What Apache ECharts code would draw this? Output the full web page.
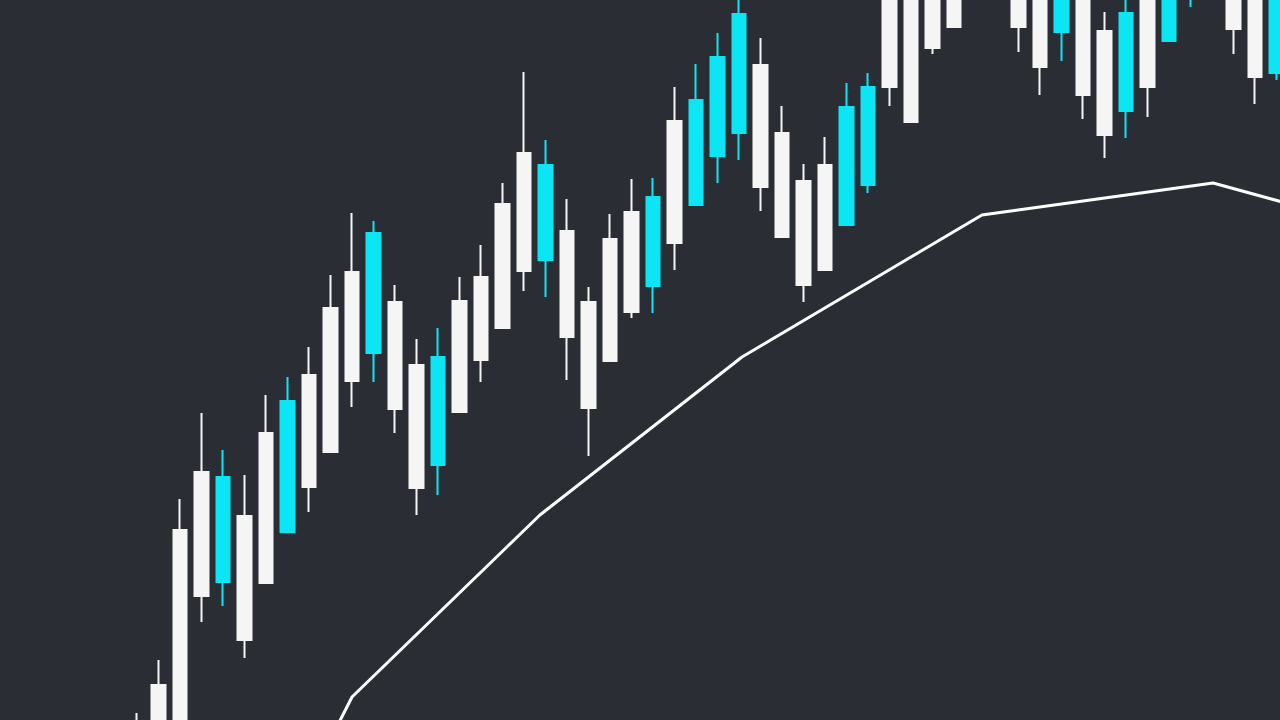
<!DOCTYPE html>
<html>
<head>
<meta charset="utf-8">
<script src="https://cdn.jsdelivr.net/npm/echarts@6/dist/echarts.min.js"></script>
<style>
html,body{margin:0;padding:0;background:#2a2e34;}
#chart{width:1280px;height:720px;}
</style>
</head>
<body>
<div id="chart"></div>
<script>
// Session labels (one per candle)
const categories = ['1','2','3','4','5','6','7','8','9','10','11','12','13','14','15','16','17','18','19','20','21','22','23','24','25','26','27','28','29','30','31','32','33','34','35','36','37','38','39','40','41','42','43','44','45','46','47','48','49','50','51','52','53','54'];

const opens  = [92.0, 94.0, 96.0, 112.4, 124.3, 108.0, 113.7, 131.9, 123.3, 126.8, 133.9, 148.7, 131.1, 123.2, 136.3, 130.8, 136.0, 139.2, 144.9, 155.5, 138.3, 131.2, 135.9, 140.8, 152.3, 147.7, 162.0, 166.3, 170.6, 153.3, 148.3, 143.5, 145.0, 161.3, 163.3, 163.3, 159.8, 167.2, 169.3, 178.0, 173.5, 169.3, 165.3, 175.0, 162.5, 158.5, 170.7, 163.3, 175.0, 176.0, 174.0, 169.1, 164.3, 174.0];
const closes = [99.0, 103.5, 119.0, 124.8, 113.8, 120.4, 128.7, 118.8, 134.5, 141.2, 144.8, 136.7, 141.8, 135.5, 125.5, 141.9, 144.3, 151.6, 156.7, 146.0, 148.9, 141.8, 148.1, 150.8, 143.4, 159.9, 151.5, 156.4, 158.7, 165.5, 158.7, 153.9, 155.5, 149.5, 153.5, 174.0, 173.0, 176.0, 175.0, 174.0, 177.0, 176.0, 174.0, 168.8, 173.0, 168.9, 160.9, 174.0, 167.9, 172.5, 177.0, 175.0, 173.5, 164.7];
const lows   = [90.0, 92.0, 94.0, 109.8, 111.4, 106.2, 113.7, 118.8, 120.8, 126.8, 131.3, 133.8, 128.7, 120.5, 122.5, 130.8, 133.8, 139.2, 142.9, 142.3, 134.0, 126.4, 135.9, 140.2, 140.7, 145.0, 151.5, 153.7, 156.0, 150.9, 148.3, 141.8, 145.0, 149.5, 152.7, 161.4, 159.8, 166.6, 169.3, 173.0, 172.5, 166.8, 162.5, 165.9, 160.1, 156.2, 158.2, 160.3, 167.9, 171.3, 172.8, 166.6, 161.6, 164.0];
const highs  = [100.7, 106.0, 122.1, 130.7, 127.0, 124.5, 132.5, 134.3, 137.3, 144.5, 150.7, 149.9, 143.5, 138.1, 139.2, 144.3, 147.5, 153.7, 164.8, 158.0, 152.1, 143.3, 150.6, 154.1, 154.2, 163.3, 165.6, 168.7, 173.0, 168.2, 161.4, 155.6, 158.3, 163.7, 164.7, 176.0, 175.0, 178.0, 177.0, 180.0, 179.0, 178.0, 176.0, 177.0, 175.0, 170.8, 173.0, 176.0, 177.0, 178.0, 179.0, 177.0, 176.0, 176.0];

// Moving-average line: position (in candle units) and value
const maPositions = [8.51, 10.00, 18.74, 28.14, 39.30, 50.05, 53.77];
const maValues    = [96.0, 102.3, 120.5, 136.3, 150.5, 153.7, 151.5];

const candleData = categories.map((c, i) => [opens[i], closes[i], lows[i], highs[i]]);
const maData = maPositions.map((p, i) => [p, maValues[i]]);

const WHITE = '#f5f5f5';
const CYAN = '#0ce6f4';
const BAND = 21.5;
const N = categories.length;
const LEFT = 137 - BAND / 2;

const chart = echarts.init(document.getElementById('chart'), null, {renderer: 'canvas'});
chart.setOption({
  backgroundColor: '#2a2e34',
  animation: false,
  grid: {left: LEFT, top: 0, width: BAND * N, height: 720, containLabel: false, outerBoundsMode: 'none'},
  xAxis: [
    {type: 'category', data: categories, boundaryGap: true, show: false},
    {type: 'value', min: -0.5, max: N - 0.5, show: false}
  ],
  yAxis: {type: 'value', min: 100, max: 172, show: false, splitLine: {show: false}},
  series: [
    {
      type: 'candlestick',
      xAxisIndex: 0,
      data: candleData,
      barWidth: 14,
      itemStyle: {
        color: WHITE, color0: CYAN,
        borderColor: WHITE, borderColor0: CYAN,
        borderWidth: 2
      }
    },
    {
      type: 'line',
      xAxisIndex: 1,
      data: maData,
      symbol: 'none',
      lineStyle: {color: '#ffffff', width: 3, join: 'round'},
      z: 3
    }
  ]
});
</script>
</body>
</html>
